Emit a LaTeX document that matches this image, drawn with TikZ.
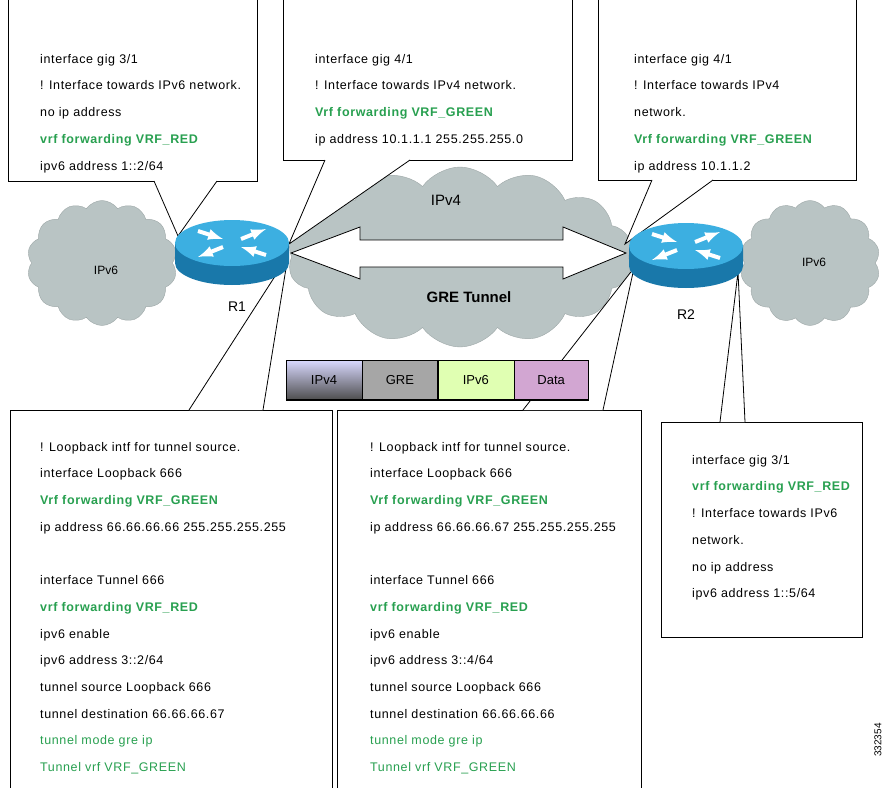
\documentclass[tikz,border=0pt]{standalone}
\usepackage{fontspec}
\setmainfont{Liberation Sans}
\usetikzlibrary{shapes.symbols}
\definecolor{cfggreen}{RGB}{40,160,80}
\definecolor{cloudgray}{RGB}{185,196,196}
\definecolor{rtop}{RGB}{60,175,225}
\definecolor{rbody}{RGB}{25,120,170}
\newcommand{\gb}[1]{\textcolor{cfggreen}{\bfseries #1}}
\newcommand{\gn}[1]{\textcolor{cfggreen}{#1}}
\tikzset{
  cfg/.style={anchor=north west, align=left, inner sep=0pt, font=\addfontfeature{LetterSpace=5}\fontsize{12.5}{26.7}\selectfont},
  box/.style={draw, fill=white, line width=0.8pt},
  netcloud/.style={cloud, cloud puffs=14, cloud puff arc=110, aspect=1.1, fill=cloudgray, draw=cloudgray!85!black, inner sep=0pt},
  cell/.style={draw, minimum height=40pt, inner sep=0pt, font=\fontsize{13}{15}\selectfont}
}
\newcommand{\router}[2]{%
  \fill[rbody] (#1-57,#2-7) -- (#1-57,#2+13) arc[start angle=180,end angle=0,x radius=57,y radius=22] -- (#1+57,#2-7) -- cycle;
  \fill[rtop] (#1,#2-7) ellipse[x radius=57,y radius=23];
  \draw[white, line width=4pt, -latex] (#1-34,#2-19) -- (#1-9,#2-11);
  \draw[white, line width=4pt, -latex] (#1+34,#2+5) -- (#1+9,#2-3);
  \draw[white, line width=4pt, -latex] (#1+9,#2-11) -- (#1+34,#2-21);
  \draw[white, line width=4pt, -latex] (#1-9,#2-3) -- (#1-34,#2+7);
}
\begin{document}
\begin{tikzpicture}[x=1pt,y=-1pt]
\useasboundingbox (0,0) rectangle (888,787);
% networks
\node[netcloud, minimum width=150pt, minimum height=125pt] (v6l) at (102,263) {};
\node[netcloud, minimum width=140pt, minimum height=125pt] (v6r) at (810,263) {};
\node[netcloud, minimum width=345pt, minimum height=180pt] (v4) at (460,257) {};
\node[font=\fontsize{12}{14}\selectfont] at (106,270) {IPv6};
\node[font=\fontsize{12}{14}\selectfont] at (814,262) {IPv6};
\node[font=\fontsize{15}{17}\selectfont] at (446,200) {IPv4};
\node[font=\bfseries\fontsize{15}{17}\selectfont] at (469,297) {GRE Tunnel};
% tunnel arrow
\draw[fill=white, line width=0.8pt] (291,253) -- (360,227) -- (360,240) -- (563,240) -- (563,227) -- (626,253)
  -- (563,279) -- (563,267) -- (360,267) -- (360,279) -- cycle;
% config boxes
\draw[box] (8,-2) rectangle (257,181);
\draw[box] (283,-2) rectangle (572,160);
\draw[box] (598,-2) rectangle (856,180);
\draw[box] (10,410) rectangle (332,790);
\draw[box] (337,410) rectangle (641,790);
\draw[box] (661,422) rectangle (862,637);
\node[cfg] (c1) at (40,54) {interface gig 3/1\\! Interface towards IPv6 network.\\no ip address\\\gb{vrf forwarding VRF\_RED}\\ipv6 address 1::2/64};
\node[cfg] (c2) at (315,54) {interface gig 4/1\\! Interface towards IPv4 network.\\\gb{Vrf forwarding VRF\_GREEN}\\ip address 10.1.1.1 255.255.255.0};
\node[cfg] (c3) at (634,54) {interface gig 4/1\\! Interface towards IPv4\\network.\\\gb{Vrf forwarding VRF\_GREEN}\\ip address 10.1.1.2};
\node[cfg] (c4) at (40,442) {! Loopback intf for tunnel source.\\interface Loopback 666\\\gb{Vrf forwarding VRF\_GREEN}\\ip address 66.66.66.66 255.255.255.255\\[26.7pt]interface Tunnel 666\\\gb{vrf forwarding VRF\_RED}\\ipv6 enable\\ipv6 address 3::2/64\\tunnel source Loopback 666\\tunnel destination 66.66.66.67\\\gn{tunnel mode gre ip}\\\gn{Tunnel vrf VRF\_GREEN}};
\node[cfg] (c5) at (370,442) {! Loopback intf for tunnel source.\\interface Loopback 666\\\gb{Vrf forwarding VRF\_GREEN}\\ip address 66.66.66.67 255.255.255.255\\[26.7pt]interface Tunnel 666\\\gb{vrf forwarding VRF\_RED}\\ipv6 enable\\ipv6 address 3::4/64\\tunnel source Loopback 666\\tunnel destination 66.66.66.66\\\gn{tunnel mode gre ip}\\\gn{Tunnel vrf VRF\_GREEN}};
\node[cfg] (c6) at (692,455) {interface gig 3/1\\\gb{vrf forwarding VRF\_RED}\\! Interface towards IPv6\\network.\\no ip address\\ipv6 address 1::5/64};
% pointers
\coordinate (t1) at (178,236); \coordinate (t2) at (289,244);
\coordinate (t3) at (288,256); \coordinate (t4) at (625,244);
\coordinate (t5) at (634,268); \coordinate (t6) at (738,272);
\foreach \a/\t/\b/\y in {154/t1/217/181, 325/t2/410/160, 189/t3/263/410, 652/t4/713/180, 523/t5/603/410, 720/t6/745/422}{
  \fill[white] (\a,\y) -- (\t) -- (\b,\y) -- cycle;
  \draw[line width=0.8pt] (\a,\y) -- (\t) -- (\b,\y);
}
% packet
\node[cell, minimum width=76pt, top color=blue!15, bottom color=black!70] (p1) at (324,380) {IPv4};
\node[cell, minimum width=75pt, fill=gray!70, anchor=west] (p2) at (p1.east) {GRE};
\node[cell, minimum width=76pt, fill=green!40!yellow!30!white, anchor=west] (p3) at (p2.east) {IPv6};
\node[cell, minimum width=74pt, fill=violet!35, anchor=west] (p4) at (p3.east) {Data};
\draw[line width=2.5pt] (p1.south west) -- (p4.south east);
% routers
\router{232}{250}
\router{686}{253}
\node[font=\fontsize{14}{16}\selectfont] (r1) at (237,307) {R1};
\node[font=\fontsize{14}{16}\selectfont] (r2) at (686,315) {R2};
\node[rotate=90, font=\fontsize{10}{12}\selectfont] (fig) at (878,740) {332354};
\end{tikzpicture}
\end{document}
